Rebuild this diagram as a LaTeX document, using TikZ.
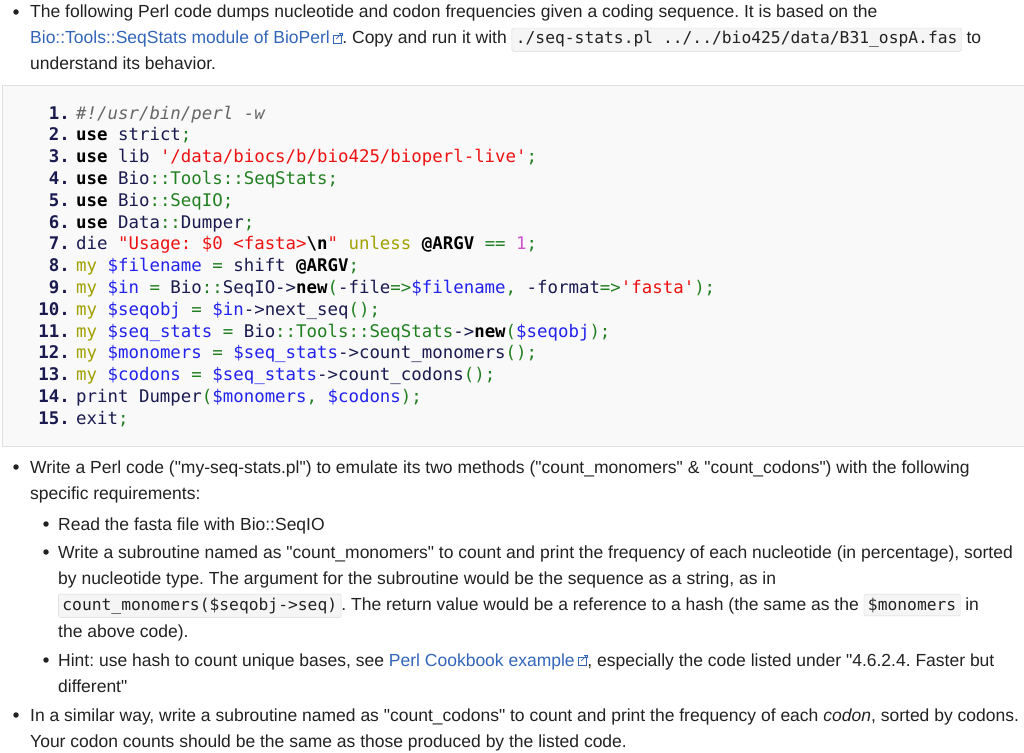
\documentclass[tikz,border=0pt]{standalone}
\usepackage{fontspec}
\setmainfont{Liberation Sans}
\newfontfamily\qf{Liberation Sans}
\setmonofont{DejaVu Sans Mono}
\definecolor{txt}{HTML}{222222}
\definecolor{lnk}{HTML}{3366BB}
\definecolor{cdef}{HTML}{1A1A50}
\definecolor{cpun}{HTML}{208020}
\definecolor{colv}{HTML}{A0A000}
\definecolor{cvar}{HTML}{2222EE}
\definecolor{cstr}{HTML}{EE1111}
\definecolor{cmag}{HTML}{CC55CC}
\newcommand\pu[1]{\textcolor{cpun}{#1}}
\newcommand\ol[1]{\textcolor{colv}{#1}}
\newcommand\va[1]{\textcolor{cvar}{#1}}
\newcommand\sr[1]{\textcolor{cstr}{#1}}
\newcommand\kb[1]{\textbf{\textcolor{black}{#1}}}
\newcommand\qq{{\qf"}}
\newcommand\extic{\tikz[baseline=-1pt,x=1pt,y=1pt,line width=0.7pt,lnk]{\draw (0,0) rectangle (8,8);\draw[-] (3,4)--(9,10);\draw (6,10)--(9,10)--(9,7);}}
\newcommand\ic[1]{\tikz[baseline=(q.base)]\node(q)[draw=black!15,fill=black!4,rounded corners=2pt,inner xsep=4pt,inner ysep=3.5pt,font=\fontsize{16.3}{18}\ttfamily]{#1};}
\tikzset{
 tx/.style={anchor=base west,inner sep=0pt,font=\fontsize{17.5}{20}\selectfont\frenchspacing,text=txt},
 cd/.style={anchor=base west,inner sep=0pt,font=\fontsize{17.4}{19}\ttfamily,text=cdef},
 ln/.style={anchor=base east,inner sep=0pt,font=\fontsize{17.4}{19}\ttfamily\bfseries,text=cdef},
 bul/.style={circle,fill=txt,inner sep=0pt,minimum size=5.5pt}
}
\begin{document}
\begin{tikzpicture}[x=1pt,y=-1pt]
\useasboundingbox[fill=white] (0,0) rectangle (1024,752);
\node[bul] (b1) at (16,12) {};
\node[tx] (t1) at (30,18) {The following Perl code dumps nucleotide and codon frequencies given a coding sequence. It is based on the};
\node[tx] (t2) at (30,44) {\textcolor{lnk}{Bio::Tools::SeqStats module of BioPerl}\,\extic. Copy and run it with \ic{./seq-stats.pl ../../bio425/data/B31\_ospA.fas} to};
\node[tx] (t3) at (30,69) {understand its behavior.};
\draw[fill=black!2.5,draw=black!12] (2,85) rectangle (1030,446);
\foreach \n [count=\i] in {1,...,15} {\node[ln] (n\i) at (70,119+21.8*\i-21.8) {\n.};}
\node[cd] (c1) at (76,119) {\textcolor{black!60}{\itshape\#!/usr/bin/perl -w}};
\node[cd] (c2) at (76,140.8) {\kb{use} strict\pu{;}};
\node[cd] (c3) at (76,162.6) {\kb{use} lib \sr{'/data/biocs/b/bio425/bioperl-live'}\pu{;}};
\node[cd] (c4) at (76,184.4) {\kb{use} Bio\pu{::}\pu{Tools}\pu{::}\pu{SeqStats}\pu{;}};
\node[cd] (c5) at (76,206.2) {\kb{use} Bio\pu{::}\pu{SeqIO;}};
\node[cd] (c6) at (76,228) {\kb{use} Data\pu{::}Dumper\pu{;}};
\node[cd] (c7) at (76,249.8) {die \sr{"Usage: \$0 <fasta>}\kb{\textbackslash n}\sr{"} \ol{unless} \kb{@ARGV} \pu{==} \textcolor{cmag}{1}\pu{;}};
\node[cd] (c8) at (76,271.6) {\ol{my} \va{\$filename} \pu{=} shift \kb{@ARGV}\pu{;}};
\node[cd] (c9) at (76,293.4) {\ol{my} \va{\$in} \pu{=} Bio\pu{::}SeqIO->\kb{new}\pu{(}-file\pu{=>}\va{\$filename}\pu{,} -format\pu{=>}\sr{'fasta'}\pu{);}};
\node[cd] (c10) at (76,315.2) {\ol{my} \va{\$seqobj} \pu{=} \va{\$in}->next\_seq\pu{();}};
\node[cd] (c11) at (76,337) {\ol{my} \va{\$seq\_stats} \pu{=} Bio\pu{::}\pu{Tools}\pu{::}\pu{SeqStats}->\kb{new}\pu{(}\va{\$seqobj}\pu{);}};
\node[cd] (c12) at (76,358.8) {\ol{my} \va{\$monomers} \pu{=} \va{\$seq\_stats}->count\_monomers\pu{();}};
\node[cd] (c13) at (76,380.6) {\ol{my} \va{\$codons} \pu{=} \va{\$seq\_stats}->count\_codons\pu{();}};
\node[cd] (c14) at (76,402.4) {print Dumper\pu{(}\va{\$monomers}\pu{,} \va{\$codons}\pu{);}};
\node[cd] (c15) at (76,424.2) {exit\pu{;}};
\node[bul] (b2) at (16,467) {};
\node[tx] (u1) at (30,473) {Write a Perl code (\qq my-seq-stats.pl\qq) to emulate its two methods (\qq count\_monomers\qq\ \& \qq count\_codons\qq) with the following};
\node[tx] (u2) at (30,499) {specific requirements:};
\node[bul] (s1) at (46,524) {};
\node[tx] (v1) at (58,530) {Read the fasta file with Bio::SeqIO};
\node[bul] (s2) at (46,552) {};
\node[tx] (v2) at (58,558) {Write a subroutine named as \qq count\_monomers\qq\ to count and print the frequency of each nucleotide (in percentage), sorted};
\node[tx] (v3) at (58,584) {by nucleotide type. The argument for the subroutine would be the sequence as a string, as in};
\node[tx] (v4) at (58,610) {\ic{count\_monomers(\$seqobj->seq)}. The return value would be a reference to a hash (the same as the \ic{\$monomers} in};
\node[tx] (v5) at (58,637) {the above code).};
\node[bul] (s3) at (46,660) {};
\node[tx] (v6) at (58,666) {Hint: use hash to count unique bases, see \textcolor{lnk}{Perl Cookbook example}\,\extic, especially the code listed under \qq 4.6.2.4. Faster but};
\node[tx] (v7) at (58,692) {different\qq};
\node[bul] (b3) at (16,715) {};
\node[tx] (w1) at (30,721) {In a similar way, write a subroutine named as \qq count\_codons\qq\ to count and print the frequency of each \textit{codon}, sorted by codons.};
\node[tx] (w2) at (30,747) {Your codon counts should be the same as those produced by the listed code.};
\end{tikzpicture}
\end{document}
